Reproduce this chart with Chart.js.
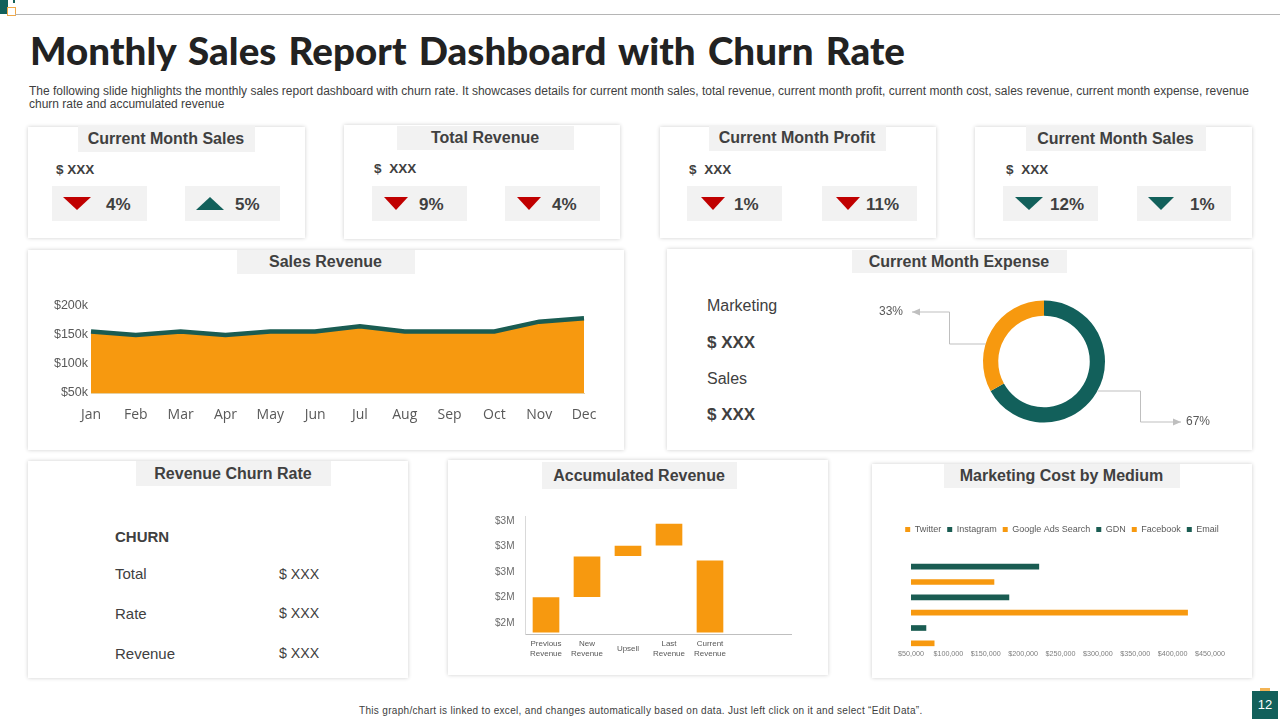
<!DOCTYPE html>
<html>
<head>
<meta charset="utf-8">
<title>Monthly Sales Report Dashboard</title>
<script src="https://cdn.jsdelivr.net/npm/chart.js@4"></script>
<style>
html, body { margin: 0; padding: 0; background: #fff; }
body { width: 1280px; height: 720px; position: relative; overflow: hidden; font-family: "Liberation Sans", Arial, sans-serif; color: #404040; }
.abs, .card, .tab, .tile, .tri, .txt, canvas { position: absolute; }
.card { background: #fff; box-shadow: 0 0 4px rgba(0,0,0,.2); }
.tab { background: #f2f2f2; font-weight: bold; font-size: 16px; text-align: center; text-indent: -1px; color: #404040; white-space: nowrap; }
.tile { background: #f2f2f2; top: 186px; width: 95px; height: 35px; }
.tri { top: 197px; width: 0; height: 0; border-left: 14px solid transparent; border-right: 14px solid transparent; }
.red { border-top: 13px solid #c00000; }
.down { border-top: 13px solid #12605b; }
.up { border-bottom: 13px solid #12605b; }
.txt { white-space: nowrap; }
.pct { top: 195px; font-size: 17px; font-weight: bold; color: #404040; }
.xxx { top: 162px; font-size: 13.5px; font-weight: bold; }
h1 { position: absolute; margin: 0; left: 30px; top: 27px; font: 900 38.5px Lato, sans-serif; letter-spacing: .05px; word-spacing: 3px; color: #222; white-space: nowrap; }
.sub { left: 29px; font-size: 12px; letter-spacing: 0; color: #404040; }
.big { font-size: 16px; color: #404040; }
</style>
</head>
<body>
<!-- corner and top rule -->
<div class="abs" style="left:0;top:0;width:8px;height:14px;background:#12605b"></div>
<div class="abs" style="left:13px;top:0;width:2px;height:3px;background:#12605b"></div>
<div class="abs" style="left:7px;top:7px;width:7px;height:7px;border:1px solid #f0a848"></div>
<div class="abs" style="left:15px;top:14px;width:1265px;height:1px;background:#b5b5b5"></div>

<h1>Monthly Sales Report Dashboard with Churn Rate</h1>
<div class="txt sub" style="top:84px">The following slide highlights the monthly sales report dashboard with churn rate. It showcases details for current month sales, total revenue, current month profit, current month cost, sales revenue, current month expense, revenue</div>
<div class="txt sub" style="top:97px">churn rate and accumulated revenue</div>

<!-- kpi cards -->
<div class="card" style="left:28px;top:127px;width:277px;height:111px"></div>
<div class="tab" style="left:78px;top:126px;width:177px;height:26px;line-height:25px">Current Month Sales</div>
<div class="txt xxx" style="left:56px">$ XXX</div>
<div class="tile" style="left:52px"></div><div class="tri red" style="left:63px"></div><div class="txt pct" style="left:106px">4%</div>
<div class="tile" style="left:185px"></div><div class="tri up" style="left:196px"></div><div class="txt pct" style="left:235px">5%</div>

<div class="card" style="left:344px;top:125px;width:276px;height:114px"></div>
<div class="tab" style="left:397px;top:126px;width:177px;height:24px;line-height:23px">Total Revenue</div>
<div class="txt xxx" style="left:374px;top:161px;word-spacing:4px">$ XXX</div>
<div class="tile" style="left:372px"></div><div class="tri red" style="left:384px;border-left-width:12px;border-right-width:12px"></div><div class="txt pct" style="left:419px">9%</div>
<div class="tile" style="left:505px"></div><div class="tri red" style="left:517px;border-left-width:12px;border-right-width:12px"></div><div class="txt pct" style="left:552px">4%</div>

<div class="card" style="left:660px;top:127px;width:276px;height:111px"></div>
<div class="tab" style="left:709px;top:126px;width:177px;height:25px;line-height:24px">Current Month Profit</div>
<div class="txt xxx" style="left:689px;word-spacing:4px">$ XXX</div>
<div class="tile" style="left:687px"></div><div class="tri red" style="left:701px;border-left-width:12px;border-right-width:12px"></div><div class="txt pct" style="left:734px">1%</div>
<div class="tile" style="left:822px"></div><div class="tri red" style="left:836px;border-left-width:12px;border-right-width:12px"></div><div class="txt pct" style="left:866px">11%</div>

<div class="card" style="left:975px;top:127px;width:277px;height:111px"></div>
<div class="tab" style="left:1026px;top:126px;width:180px;height:25px;line-height:25px">Current Month Sales</div>
<div class="txt xxx" style="left:1006px;word-spacing:4px">$ XXX</div>
<div class="tile" style="left:1003px"></div><div class="tri down" style="left:1015px"></div><div class="txt pct" style="left:1050px">12%</div>
<div class="tile" style="left:1137px;width:94px"></div><div class="tri down" style="left:1148px;border-left-width:13px;border-right-width:13px"></div><div class="txt pct" style="left:1190px">1%</div>

<!-- chart cards -->
<div class="card" style="left:28px;top:250px;width:596px;height:200px"></div>
<div class="tab" style="left:237px;top:250px;width:178px;height:24px;line-height:24px">Sales Revenue</div>
<canvas id="salesChart" style="left:30px;top:290px;width:594px;height:150px"></canvas>

<div class="card" style="left:667px;top:249px;width:585px;height:201px"></div>
<div class="tab" style="left:852px;top:250px;width:215px;height:23px;line-height:23px">Current Month Expense</div>
<div class="txt big" style="left:707px;top:297px">Marketing</div>
<div class="txt big" style="left:707px;top:333px;font-weight:bold;font-size:17px">$ XXX</div>
<div class="txt big" style="left:707px;top:370px">Sales</div>
<div class="txt big" style="left:707px;top:405px;font-weight:bold;font-size:17px">$ XXX</div>
<canvas id="expenseChart" style="left:864px;top:291px;width:360px;height:141px"></canvas>

<div class="card" style="left:28px;top:461px;width:380px;height:217px"></div>
<div class="tab" style="left:136px;top:461px;width:195px;height:25px;line-height:25px">Revenue Churn Rate</div>
<div class="txt big" style="left:115px;top:528px;font-weight:bold;font-size:15px">CHURN</div>
<div class="txt big" style="left:115px;top:565px;font-size:15px">Total</div>
<div class="txt big" style="left:279px;top:566px;font-size:14.2px">$ XXX</div>
<div class="txt big" style="left:115px;top:605px;font-size:15px">Rate</div>
<div class="txt big" style="left:279px;top:605px;font-size:14.2px">$ XXX</div>
<div class="txt big" style="left:115px;top:645px;font-size:15px">Revenue</div>
<div class="txt big" style="left:279px;top:645px;font-size:14.2px">$ XXX</div>

<div class="card" style="left:448px;top:460px;width:380px;height:215px"></div>
<div class="tab" style="left:542px;top:462px;width:195px;height:27px;line-height:27px">Accumulated Revenue</div>
<canvas id="accumChart" style="left:480px;top:499px;width:340px;height:171px"></canvas>

<div class="card" style="left:872px;top:464px;width:380px;height:214px"></div>
<div class="tab" style="left:944px;top:464px;width:236px;height:24px;line-height:24px">Marketing Cost by Medium</div>
<canvas id="mediumChart" style="left:872px;top:519px;width:380px;height:146px"></canvas>

<!-- footer -->
<div class="txt" style="left:359px;top:705px;font-size:10px;letter-spacing:.32px;color:#404040">This graph/chart is linked to excel, and changes automatically based on data. Just left click on it and select “Edit Data”.</div>
<div class="abs" style="left:1260px;top:688px;width:10px;height:4px;background:#f3b455"></div>
<div class="abs" style="left:1252px;top:691px;width:26px;height:28px;background:#12605b;color:#fff;font-size:13px;text-align:center;line-height:28px">12</div>

<script>
// values
const months = ['Jan', 'Feb', 'Mar', 'Apr', 'May', 'Jun', 'Jul', 'Aug', 'Sep', 'Oct', 'Nov', 'Dec']
const salesRevenue = [156, 150, 156, 150, 156, 156, 165, 156, 156, 156, 173, 179]
const salesTicks = [50, 100, 150, 200]

const expenseNames = ['Sales', 'Marketing']
const expenseShare = [67, 33]

const accumNames = [['Previous', 'Revenue'], ['New', 'Revenue'], 'Upsell', ['Last', 'Revenue'], ['Current', 'Revenue']]
const accumLow = [1.91, 2.26, 2.66, 2.765, 1.91]
const accumHigh = [2.25, 2.65, 2.755, 2.97, 2.61]
const accumTicks = [2, 2.25, 2.5, 2.75, 3]

const mediums = ['Email', 'Facebook', 'GDN', 'Google Ads Search', 'Instagram', 'Twitter']
const mediumCost = [221000, 161000, 181000, 420000, 70000, 81000]
const costTicks = [50000, 100000, 150000, 200000, 250000, 300000, 350000, 400000, 450000]

const teal = '#12605b'
const tealDark = '#1a5c52'
const orange = '#f7990f'
const grey = '#595959'
const arial = '"Liberation Sans", Arial, sans-serif'

Chart.defaults.animation = false
Chart.defaults.responsive = false
Chart.defaults.plugins.legend.display = false
Chart.defaults.plugins.tooltip.enabled = false

function sized(id) {
    const c = document.getElementById(id)
    c.width = parseInt(c.style.width)
    c.height = parseInt(c.style.height)
    return c
}

new Chart(sized('salesChart'), {
    type: 'line',
    data: {
        labels: months,
        datasets: [{
            data: salesRevenue,
            fill: 'start',
            backgroundColor: orange,
            borderColor: tealDark,
            borderWidth: 4.5,
            tension: 0,
            pointRadius: 0
        }]
    },
    options: {
        layout: { padding: { top: 16, right: 40 } },
        scales: {
            x: {
                offset: false,
                grid: { display: false, drawTicks: true, tickLength: 4, tickColor: '#d9d9d9' },
                border: { color: '#e6cf9f' },
                ticks: { color: grey, font: { family: '"Open Sans"', size: 14 }, padding: 10, maxRotation: 0, autoSkip: false },
                afterFit: (s) => { s.height = 47 }
            },
            y: {
                min: 50,
                max: 200,
                afterBuildTicks: (s) => { s.ticks = salesTicks.map((v) => ({ value: v })) },
                grid: { display: false, drawTicks: false },
                border: { display: false },
                ticks: { color: grey, font: { family: arial, size: 12.5 }, padding: 3, callback: (v) => '$' + v + 'k' },
                afterFit: (s) => { s.width = 61 }
            }
        }
    }
})

// leader lines from the ring out to the percentages
const leaderLines = {
    id: 'leaderLines',
    afterDatasetsDraw(chart) {
        const ctx = chart.ctx
        const arc = chart.getDatasetMeta(0).data[0]
        const cx = arc.x, cy = arc.y, r = arc.outerRadius
        const paths = [
            { i: 0, dy: 29, bendX: 96, endY: 60, tipX: 137, textX: 154 },
            { i: 1, dy: -18, bendX: -95, endY: -50, tipX: -132, textX: -153 }
        ]
        ctx.save()
        paths.forEach((p) => {
            const dir = Math.sign(p.tipX)
            const startX = dir * Math.sqrt(r * r - p.dy * p.dy)
            ctx.strokeStyle = '#bfbfbf'
            ctx.fillStyle = '#bfbfbf'
            ctx.lineWidth = 1
            ctx.beginPath()
            ctx.moveTo(cx + startX, cy + p.dy + 0.5)
            ctx.lineTo(cx + p.bendX + 0.5, cy + p.dy + 0.5)
            ctx.lineTo(cx + p.bendX + 0.5, cy + p.endY + 0.5)
            ctx.lineTo(cx + p.tipX, cy + p.endY + 0.5)
            ctx.stroke()
            ctx.beginPath()
            ctx.moveTo(cx + p.tipX, cy + p.endY + 0.5)
            ctx.lineTo(cx + p.tipX - dir * 8, cy + p.endY - 3)
            ctx.lineTo(cx + p.tipX - dir * 8, cy + p.endY + 4)
            ctx.fill()
            ctx.fillStyle = grey
            ctx.font = '12px ' + arial
            ctx.textAlign = 'center'
            ctx.textBaseline = 'middle'
            ctx.fillText(expenseShare[p.i] + '%', cx + p.textX, cy + p.endY)
        })
        ctx.restore()
    }
}

new Chart(sized('expenseChart'), {
    type: 'doughnut',
    plugins: [leaderLines],
    data: {
        labels: expenseNames,
        datasets: [{ data: expenseShare, backgroundColor: [teal, orange], borderWidth: 0 }]
    },
    options: { radius: 61, cutout: '75%', layout: { padding: 0 } }
})

new Chart(sized('accumChart'), {
    type: 'bar',
    data: {
        datasets: [{
            data: accumLow.map((lo, i) => ({ x: i, y: [lo, accumHigh[i]] })),
            backgroundColor: orange,
            barThickness: 26
        }]
    },
    options: {
        layout: { padding: { top: 10, right: 29 } },
        scales: {
            x: {
                type: 'linear',
                offset: false,
                min: -0.5,
                max: 5.976,
                afterBuildTicks: (s) => { s.ticks = accumNames.map((n, i) => ({ value: i })) },
                grid: { display: false, drawTicks: false },
                border: { color: '#bfbfbf' },
                ticks: {
                    color: grey,
                    font: { family: arial, size: 8 },
                    padding: 10,
                    maxRotation: 0,
                    autoSkip: false,
                    crossAlign: 'center',
                    callback: (v) => accumNames[v]
                },
                afterFit: (s) => { s.height = 36 }
            },
            y: {
                min: 1.893,
                max: 3.05,
                afterBuildTicks: (s) => { s.ticks = accumTicks.map((v) => ({ value: v })) },
                grid: { display: false, drawTicks: false },
                border: { color: '#d9d9d9' },
                ticks: { color: '#6b6b6b', font: { family: arial, size: 10 }, padding: 11, callback: (v) => '$' + v.toFixed(0) + 'M' },
                afterFit: (s) => { s.width = 45.5 }
            }
        }
    }
})

const barColors = mediums.map((m, i) => (i % 2 ? orange : tealDark))

new Chart(sized('mediumChart'), {
    type: 'bar',
    plugins: [{
        id: 'legendGap',
        beforeInit(chart) {
            const fit = chart.legend.fit
            chart.legend.fit = function () {
                fit.call(this)
                this.height += 15
            }
        }
    }],
    data: {
        labels: mediums,
        datasets: [{ data: mediumCost, backgroundColor: barColors, barThickness: 5, base: 50000 }]
    },
    options: {
        indexAxis: 'y',
        plugins: {
            legend: {
                display: true,
                position: 'top',
                labels: {
                    boxWidth: 5,
                    boxHeight: 5,
                    padding: 6,
                    color: grey,
                    font: { family: arial, size: 9 },
                    generateLabels: () => mediums.map((m, i) => ({ text: m, fillStyle: barColors[i], strokeStyle: barColors[i], fontColor: grey, lineWidth: 0, index: i })).reverse()
                }
            }
        },
        scales: {
            x: {
                min: 50000,
                max: 450000,
                afterBuildTicks: (s) => { s.ticks = costTicks.map((v) => ({ value: v })) },
                grid: { display: false, drawTicks: false },
                border: { display: false },
                ticks: { color: '#7f7f7f', font: { family: arial, size: 7.2 }, padding: -1, maxRotation: 0, autoSkip: false, callback: (v) => '$' + v.toLocaleString('en-US') },
                afterFit: (s) => { s.height = 14 }
            },
            y: {
                grid: { display: false, drawTicks: false },
                border: { display: false },
                ticks: { display: false },
                afterFit: (s) => { s.width = 39 }
            },
            // empty axis, only keeps the bars off the right side without narrowing the legend
            yRight: {
                type: 'linear',
                axis: 'y',
                position: 'right',
                grid: { display: false, drawTicks: false },
                border: { display: false },
                ticks: { display: false },
                afterFit: (s) => { s.width = 42 }
            }
        }
    }
})
</script>
</body>
</html>
